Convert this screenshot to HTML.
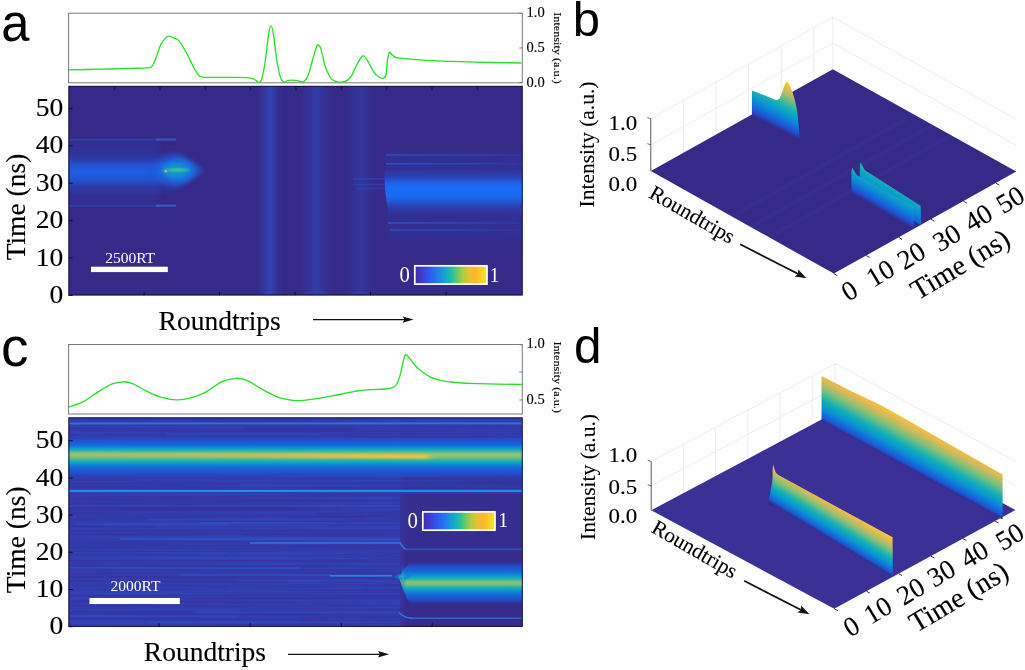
<!DOCTYPE html>
<html><head><meta charset="utf-8"><title>Figure</title>
<style>html,body{margin:0;padding:0;background:#fff}svg{display:block}text[font-family^=Liberation\ Serif]:not([fill]){stroke:#000;stroke-width:.12px}</style></head>
<body><svg width="1025" height="670" viewBox="0 0 1025 670">
<defs><linearGradient id="cb" x1="0" x2="1" y1="0" y2="0"><stop offset="0.000" stop-color="#3a2e9c"/><stop offset="0.080" stop-color="#4038d0"/><stop offset="0.200" stop-color="#3058ee"/><stop offset="0.320" stop-color="#2080e8"/><stop offset="0.420" stop-color="#18a4d2"/><stop offset="0.500" stop-color="#20bcaa"/><stop offset="0.580" stop-color="#60c870"/><stop offset="0.670" stop-color="#b0cc40"/><stop offset="0.760" stop-color="#ecc030"/><stop offset="0.840" stop-color="#fdb62c"/><stop offset="0.920" stop-color="#f8d024"/><stop offset="1.000" stop-color="#f4ea1c"/></linearGradient>
<filter id="b1" x="-20%" y="-20%" width="140%" height="140%"><feGaussianBlur stdDeviation="0.6"/></filter>
<filter id="b2" x="-30%" y="-30%" width="160%" height="160%"><feGaussianBlur stdDeviation="2"/></filter>
<filter id="b3" x="-30%" y="-30%" width="160%" height="160%"><feGaussianBlur stdDeviation="1"/></filter>
<linearGradient id="vs" x1="0" x2="1" y1="0" y2="0"><stop offset="0.000" stop-color="#2f4cc4" stop-opacity="0.00"/><stop offset="0.250" stop-color="#2f4cc4" stop-opacity="0.30"/><stop offset="0.500" stop-color="#2f4cc4" stop-opacity="0.75"/><stop offset="0.750" stop-color="#2f4cc4" stop-opacity="0.30"/><stop offset="1.000" stop-color="#2f4cc4" stop-opacity="0.00"/></linearGradient>
<linearGradient id="lb" x1="0" x2="0" y1="0" y2="1"><stop offset="0.000" stop-color="#2058d8" stop-opacity="0.00"/><stop offset="0.200" stop-color="#2452d0" stop-opacity="0.35"/><stop offset="0.320" stop-color="#2058da" stop-opacity="0.90"/><stop offset="0.470" stop-color="#1e5ce0" stop-opacity="1.00"/><stop offset="0.620" stop-color="#2058da" stop-opacity="0.90"/><stop offset="0.780" stop-color="#2452d0" stop-opacity="0.35"/><stop offset="1.000" stop-color="#2058d8" stop-opacity="0.00"/></linearGradient>
<linearGradient id="mk" gradientUnits="userSpaceOnUse" x1="158" x2="178" y1="0" y2="0"><stop offset="0" stop-color="#fff"/><stop offset="1" stop-color="#000"/></linearGradient><mask id="mband" maskUnits="userSpaceOnUse" x="60" y="140" width="120" height="70"><rect x="60" y="140" width="120" height="70" fill="url(#mk)"/></mask>
<radialGradient id="bl" cx="0.5" cy="0.5" r="0.5"><stop offset="0.000" stop-color="#1a7af2" stop-opacity="1.00"/><stop offset="0.450" stop-color="#1c70ee" stop-opacity="0.95"/><stop offset="0.750" stop-color="#2060e0" stop-opacity="0.60"/><stop offset="1.000" stop-color="#2452d0" stop-opacity="0.00"/></radialGradient>
<radialGradient id="bl2" cx="0.5" cy="0.5" r="0.5"><stop offset="0.000" stop-color="#08a5c4" stop-opacity="1.00"/><stop offset="0.500" stop-color="#0d93d2" stop-opacity="0.80"/><stop offset="1.000" stop-color="#0e75dc" stop-opacity="0.00"/></radialGradient>
<radialGradient id="bl3" cx="0.5" cy="0.5" r="0.5"><stop offset="0.000" stop-color="#5ebc8b" stop-opacity="1.00"/><stop offset="0.600" stop-color="#2ab5a7" stop-opacity="0.80"/><stop offset="1.000" stop-color="#07aac1" stop-opacity="0.00"/></radialGradient>
<linearGradient id="fade" x1="0" x2="1" y1="0" y2="0"><stop offset="0.000" stop-color="#2f5ad0" stop-opacity="1.00"/><stop offset="0.350" stop-color="#2b55cc" stop-opacity="0.90"/><stop offset="1.000" stop-color="#2b55cc" stop-opacity="0.35"/></linearGradient>
<linearGradient id="rb" x1="0" x2="0" y1="0" y2="1"><stop offset="0.000" stop-color="#2058d8" stop-opacity="0.00"/><stop offset="0.160" stop-color="#2452d0" stop-opacity="0.45"/><stop offset="0.300" stop-color="#1c64ea" stop-opacity="0.95"/><stop offset="0.420" stop-color="#186cf4" stop-opacity="1.00"/><stop offset="0.580" stop-color="#186cf4" stop-opacity="1.00"/><stop offset="0.700" stop-color="#1c62e6" stop-opacity="0.80"/><stop offset="0.840" stop-color="#2452d0" stop-opacity="0.35"/><stop offset="1.000" stop-color="#2058d8" stop-opacity="0.00"/></linearGradient>
<linearGradient id="dk" x1="0" x2="1" y1="0" y2="0"><stop offset="0.000" stop-color="#352c8c" stop-opacity="0.00"/><stop offset="0.060" stop-color="#352c8c" stop-opacity="1.00"/><stop offset="1.000" stop-color="#352c8c" stop-opacity="1.00"/></linearGradient>
<filter id="streak" x="0" y="0" width="100%" height="100%" color-interpolation-filters="sRGB"><feTurbulence type="fractalNoise" baseFrequency="0.003 0.4" numOctaves="2" seed="7"/><feColorMatrix type="matrix" values="0 0 0 0 0.16  0 0 0 0 0.31  0 0 0 0 0.80  1.5 0 0 0 -0.6"/></filter>
<linearGradient id="tb1" x1="0" x2="0" y1="0" y2="1"><stop offset="0.000" stop-color="#244bc5" stop-opacity="0.00"/><stop offset="0.100" stop-color="#2053d4" stop-opacity="0.90"/><stop offset="0.210" stop-color="#136bda" stop-opacity="1.00"/><stop offset="0.280" stop-color="#0b9acd" stop-opacity="1.00"/><stop offset="0.335" stop-color="#2ab5a7" stop-opacity="1.00"/><stop offset="0.385" stop-color="#7abf7c" stop-opacity="1.00"/><stop offset="0.435" stop-color="#9fbe6d" stop-opacity="1.00"/><stop offset="0.485" stop-color="#7abf7c" stop-opacity="1.00"/><stop offset="0.540" stop-color="#33b8a1" stop-opacity="1.00"/><stop offset="0.610" stop-color="#09a1c8" stop-opacity="1.00"/><stop offset="0.710" stop-color="#136bda" stop-opacity="1.00"/><stop offset="0.830" stop-color="#2053d4" stop-opacity="0.90"/><stop offset="1.000" stop-color="#244bc5" stop-opacity="0.00"/></linearGradient>
<linearGradient id="core" x1="0" x2="1" y1="0" y2="0"><stop offset="0.000" stop-color="#acbd68" stop-opacity="0.20"/><stop offset="0.150" stop-color="#b8bd63" stop-opacity="0.50"/><stop offset="0.350" stop-color="#cdbb5a" stop-opacity="0.80"/><stop offset="0.550" stop-color="#edb94c" stop-opacity="0.95"/><stop offset="0.650" stop-color="#f2c23f" stop-opacity="1.00"/><stop offset="0.785" stop-color="#f4c43c" stop-opacity="1.00"/><stop offset="0.815" stop-color="#7abf7c" stop-opacity="0.00"/><stop offset="1.000" stop-color="#56bc8e" stop-opacity="0.00"/></linearGradient>
<linearGradient id="lb2" x1="0" x2="0" y1="0" y2="1"><stop offset="0.000" stop-color="#244bc5" stop-opacity="0.00"/><stop offset="0.120" stop-color="#2053d4" stop-opacity="0.90"/><stop offset="0.240" stop-color="#136bda" stop-opacity="1.00"/><stop offset="0.340" stop-color="#0b9acd" stop-opacity="1.00"/><stop offset="0.410" stop-color="#2ab5a7" stop-opacity="1.00"/><stop offset="0.455" stop-color="#6cbe83" stop-opacity="1.00"/><stop offset="0.500" stop-color="#93be72" stop-opacity="1.00"/><stop offset="0.545" stop-color="#6cbe83" stop-opacity="1.00"/><stop offset="0.590" stop-color="#2ab5a7" stop-opacity="1.00"/><stop offset="0.660" stop-color="#0b9acd" stop-opacity="1.00"/><stop offset="0.760" stop-color="#136bda" stop-opacity="1.00"/><stop offset="0.880" stop-color="#2053d4" stop-opacity="0.90"/><stop offset="1.000" stop-color="#244bc5" stop-opacity="0.00"/></linearGradient>
<radialGradient id="fl" cx="0.5" cy="0.5" r="0.5"><stop offset="0.000" stop-color="#33b8a1" stop-opacity="1.00"/><stop offset="0.400" stop-color="#0d93d2" stop-opacity="0.80"/><stop offset="1.000" stop-color="#1c5ad6" stop-opacity="0.00"/></radialGradient>
<linearGradient id="r1" gradientUnits="userSpaceOnUse" x1="751.9" y1="115.6" x2="773.2" y2="74.3"><stop offset="0.00" stop-color="#352a87"/><stop offset="0.10" stop-color="#224fcc"/><stop offset="0.20" stop-color="#126eda"/><stop offset="0.30" stop-color="#0d8ad5"/><stop offset="0.40" stop-color="#09a1c8"/><stop offset="0.50" stop-color="#1db1b1"/><stop offset="0.60" stop-color="#4fbb92"/><stop offset="0.70" stop-color="#8dbe74"/><stop offset="0.80" stop-color="#c3bc5e"/><stop offset="0.90" stop-color="#eebb49"/><stop offset="1.00" stop-color="#fad02b"/></linearGradient>
<linearGradient id="r2b" gradientUnits="userSpaceOnUse" x1="859.8" y1="188.0" x2="883.0" y2="149.9"><stop offset="0.00" stop-color="#1c5ad6"/><stop offset="0.10" stop-color="#0e75dc"/><stop offset="0.20" stop-color="#0d8dd4"/><stop offset="0.30" stop-color="#09a1c8"/><stop offset="0.40" stop-color="#19b0b4"/><stop offset="0.50" stop-color="#41b99a"/><stop offset="0.60" stop-color="#7abf7c"/><stop offset="0.70" stop-color="#acbd68"/><stop offset="0.80" stop-color="#d8bb55"/><stop offset="0.90" stop-color="#f2c23f"/><stop offset="1.00" stop-color="#fad925"/></linearGradient>
<linearGradient id="r2f" gradientUnits="userSpaceOnUse" x1="851.4" y1="193.5" x2="874.0" y2="154.2"><stop offset="0.00" stop-color="#352a87"/><stop offset="0.10" stop-color="#2250ce"/><stop offset="0.20" stop-color="#1170db"/><stop offset="0.30" stop-color="#0d8cd4"/><stop offset="0.40" stop-color="#09a3c6"/><stop offset="0.50" stop-color="#21b2ae"/><stop offset="0.60" stop-color="#58bc8e"/><stop offset="0.70" stop-color="#95be71"/><stop offset="0.80" stop-color="#cbbc5b"/><stop offset="0.90" stop-color="#f1bf43"/><stop offset="1.00" stop-color="#fad925"/></linearGradient>
<linearGradient id="rd1" gradientUnits="userSpaceOnUse" x1="821.5" y1="421.0" x2="841.7" y2="383.8"><stop offset="0.00" stop-color="#352a87"/><stop offset="0.08" stop-color="#1f55d4"/><stop offset="0.17" stop-color="#1071db"/><stop offset="0.25" stop-color="#0d89d5"/><stop offset="0.33" stop-color="#0b9ccb"/><stop offset="0.42" stop-color="#0cacbd"/><stop offset="0.50" stop-color="#2ab5a7"/><stop offset="0.58" stop-color="#54bb90"/><stop offset="0.67" stop-color="#82bf79"/><stop offset="0.75" stop-color="#aabd69"/><stop offset="0.83" stop-color="#cebb5a"/><stop offset="0.92" stop-color="#edba4b"/><stop offset="1.00" stop-color="#f5c837"/></linearGradient>
<linearGradient id="rd2" gradientUnits="userSpaceOnUse" x1="772.6" y1="504.5" x2="793.9" y2="469.2"><stop offset="0.00" stop-color="#352a87"/><stop offset="0.08" stop-color="#1b5cd6"/><stop offset="0.17" stop-color="#0e7dd9"/><stop offset="0.25" stop-color="#0c98cf"/><stop offset="0.33" stop-color="#0babbe"/><stop offset="0.42" stop-color="#30b7a3"/><stop offset="0.50" stop-color="#6abd85"/><stop offset="0.58" stop-color="#9ebe6e"/><stop offset="0.67" stop-color="#ccbc5b"/><stop offset="0.75" stop-color="#efbc47"/><stop offset="0.83" stop-color="#f9ce2e"/><stop offset="0.92" stop-color="#f9ec18"/><stop offset="1.00" stop-color="#f9fb0e"/></linearGradient></defs>
<rect width="1025" height="670" fill="#fff"/>
<text transform="translate(1.2,40.6) scale(0.93,1)" font-size="54.5" font-family="Liberation Sans, sans-serif">a</text>
<text x="0.9" y="365.8" font-size="55" font-family="Liberation Sans, sans-serif">c</text>
<text x="572.8" y="35.8" font-size="49" font-family="Liberation Sans, sans-serif">b</text>
<text x="574" y="363.2" font-size="49.5" font-family="Liberation Sans, sans-serif">d</text>
<rect x="68.6" y="13.2" width="453.7" height="69.6" fill="#fff" stroke="#7a7a7a" stroke-width="1"/>
<path d="M68.9 69.9 C74.1 69.8 89.8 69.5 100.0 69.2 C110.2 69.0 122.0 68.6 130.0 68.4 C138.0 68.2 144.5 68.1 148.0 67.9 C151.5 67.7 150.2 67.7 151.0 67.2 C151.8 66.7 152.2 66.4 153.0 64.8 C153.8 63.2 154.7 61.0 156.0 57.7 C157.3 54.4 159.3 47.8 160.7 44.8 C162.1 41.8 162.9 41.2 164.2 39.7 C165.4 38.2 166.4 36.3 168.2 36.1 C170.0 35.9 172.9 37.4 174.8 38.3 C176.7 39.2 177.5 38.8 179.4 41.3 C181.3 43.8 184.2 48.7 186.5 53.0 C188.8 57.3 191.6 63.4 193.5 67.0 C195.4 70.6 196.6 72.9 198.2 74.6 C199.8 76.3 198.4 76.6 202.9 77.1 C207.4 77.6 217.6 77.3 225.0 77.4 C232.4 77.5 242.5 77.2 247.4 77.6 C252.3 77.9 252.5 78.7 254.4 79.5 C256.3 80.3 257.4 82.2 258.6 82.3 C259.8 82.4 260.3 83.1 261.4 80.0 C262.4 76.9 263.7 70.9 264.9 63.5 C266.1 56.1 267.4 41.7 268.4 35.4 C269.4 29.1 270.1 25.6 271.0 25.6 C271.9 25.6 272.7 29.8 273.6 35.4 C274.5 40.9 275.5 52.1 276.6 58.9 C277.7 65.7 278.9 72.6 280.1 76.4 C281.3 80.2 282.3 81.3 283.7 82.0 C285.1 82.7 286.9 80.7 288.3 80.4 C289.7 80.1 290.6 80.1 292.2 80.1 C293.8 80.1 296.2 80.3 298.0 80.6 C299.8 80.9 301.5 82.6 303.2 81.8 C304.9 81.0 306.4 79.5 308.0 75.7 C309.6 71.9 311.5 63.6 312.9 58.7 C314.3 53.8 315.7 48.8 316.6 46.5 C317.5 44.2 317.8 44.8 318.5 45.2 C319.2 45.6 319.9 45.4 321.0 48.9 C322.1 52.4 323.6 61.3 325.1 66.0 C326.6 70.7 328.4 74.5 330.0 77.0 C331.6 79.5 332.5 80.3 334.9 81.1 C337.3 81.9 342.0 82.3 344.6 81.6 C347.2 80.9 348.7 79.8 350.7 77.0 C352.7 74.2 355.0 68.2 356.8 64.8 C358.6 61.4 360.5 58.1 361.7 56.7 C362.9 55.3 363.1 55.5 364.1 56.2 C365.1 56.9 366.2 58.5 367.8 61.1 C369.4 63.8 372.1 69.4 373.9 72.1 C375.7 74.8 377.2 76.0 378.8 77.0 C380.4 78.0 382.5 78.6 383.7 78.2 C384.9 77.8 385.5 77.3 386.1 74.5 C386.7 71.7 386.8 64.8 387.3 61.1 C387.8 57.5 388.7 53.8 389.3 52.6 C389.9 51.4 390.1 53.1 391.0 53.8 C391.9 54.5 393.2 56.0 394.6 56.7 C396.0 57.4 394.2 57.6 399.5 58.2 C404.8 58.8 413.7 59.8 426.3 60.4 C438.9 61.0 459.2 61.7 475.1 62.1 C491.0 62.5 513.8 62.9 521.5 63.0" fill="none" stroke="#27e027" stroke-width="1.35" stroke-linejoin="round"/>
<line x1="519.3" x2="522.3" y1="13.4" y2="13.4" stroke="#7a7a7a" stroke-width="1"/>
<text x="526.6" y="17.0" font-size="14" textLength="18.2" lengthAdjust="spacingAndGlyphs" font-family="Liberation Serif, serif">1.0</text>
<line x1="519.3" x2="522.3" y1="48.0" y2="48.0" stroke="#7a7a7a" stroke-width="1"/>
<text x="526.6" y="51.8" font-size="14" textLength="18.2" lengthAdjust="spacingAndGlyphs" font-family="Liberation Serif, serif">0.5</text>
<line x1="519.3" x2="522.3" y1="82.6" y2="82.6" stroke="#7a7a7a" stroke-width="1"/>
<text x="526.6" y="86.8" font-size="14" textLength="18.2" lengthAdjust="spacingAndGlyphs" font-family="Liberation Serif, serif">0.0</text>
<text transform="translate(554.1,48.0) rotate(90)" text-anchor="middle" font-size="11" textLength="71.5" lengthAdjust="spacingAndGlyphs" font-family="Liberation Serif, serif">Intensity (a.u.)</text>
<rect x="68.6" y="86.0" width="453.7" height="209.3" fill="#352a87"/>
<clipPath id="ca"><rect x="68.6" y="86.0" width="453.7" height="209.3"/></clipPath>
<g clip-path="url(#ca)">
<rect x="257.3" y="86.0" width="25.0" height="209.3" fill="url(#vs)" opacity="1.00"/>
<rect x="299.0" y="86.0" width="34.0" height="209.3" fill="url(#vs)" opacity="0.72"/>
<rect x="344.5" y="86.0" width="32.0" height="209.3" fill="url(#vs)" opacity="0.50"/>
<rect x="60" y="141" width="100" height="64" fill="#2f3cae" opacity="0.3" filter="url(#b2)" mask="url(#mband)"/>
<rect x="68.6" y="150" width="109.4" height="47" fill="url(#lb)" mask="url(#mband)"/>
<rect x="68.6" y="138.8" width="91.4" height="1.8" fill="#2b55cc" opacity="0.55" filter="url(#b1)"/>
<rect x="156" y="138.5" width="20" height="2" fill="#3a78e0" opacity="0.6" filter="url(#b1)"/>
<rect x="68.6" y="204.9" width="91.4" height="1.8" fill="#2b55cc" opacity="0.55" filter="url(#b1)"/>
<rect x="156" y="204.6" width="20" height="2" fill="#3a78e0" opacity="0.6" filter="url(#b1)"/>
<path d="M151 170.5 C151 160 158 151 168 150.5 C182 152 195 164 206 170.5 C195 177 182 189 168 190.5 C158 190 151 181 151 170.5Z" fill="url(#bl)" filter="url(#b2)"/>
<ellipse cx="176" cy="170.5" rx="21" ry="11" fill="url(#bl2)" filter="url(#b3)"/>
<ellipse cx="177" cy="170" rx="16" ry="3" fill="url(#bl3)" filter="url(#b1)"/>
<circle cx="165.8" cy="171.2" r="1.3" fill="#b8bd63" filter="url(#b1)"/>
<rect x="386" y="152" width="137" height="88" fill="#2f3cae" opacity="0.3" filter="url(#b2)"/>
<path d="M384.5 170 L523 168 L523 216 L389 214 C385.5 200 384.5 185 384.5 170Z" fill="url(#rb)"/>
<rect x="386.0" y="154.2" width="136.3" height="1.6" fill="url(#fade)" opacity="0.70" filter="url(#b1)"/>
<rect x="386.0" y="163.0" width="136.3" height="1.6" fill="url(#fade)" opacity="0.80" filter="url(#b1)"/>
<rect x="388.0" y="222.2" width="134.3" height="1.6" fill="url(#fade)" opacity="0.75" filter="url(#b1)"/>
<rect x="390.0" y="229.2" width="132.3" height="1.6" fill="url(#fade)" opacity="0.65" filter="url(#b1)"/>
<rect x="353.0" y="178.0" width="32.0" height="1.6" fill="#2b55cc" opacity="0.45" filter="url(#b1)"/>
<rect x="353.0" y="183.6" width="32.0" height="1.6" fill="#2b55cc" opacity="0.45" filter="url(#b1)"/>
<rect x="356.0" y="187.7" width="29.0" height="1.6" fill="#2b55cc" opacity="0.40" filter="url(#b1)"/>
</g>
<rect x="414.8" y="265.8" width="72.2" height="18.3" fill="url(#cb)" stroke="#fff" stroke-width="1.7"/>
<text transform="translate(399.6,282.3) scale(0.9,1)" font-size="23" fill="#fff" font-family="Liberation Serif, serif">0</text>
<text transform="translate(489.6,281.8) scale(0.9,1)" font-size="22" fill="#fff" font-family="Liberation Serif, serif">1</text>
<rect x="91" y="266.7" width="76.8" height="5.4" fill="#fff"/>
<text x="130.1" y="262.5" text-anchor="middle" font-size="15.5" fill="#fff" font-family="Liberation Serif, serif">2500RT</text>
<rect x="68.9" y="86.3" width="453.4" height="208.7" fill="none" stroke="#15124a" stroke-width="1"/>
<line x1="68.6" x2="72.6" y1="295.4" y2="295.4" stroke="#111" stroke-width="1"/>
<text transform="translate(63.2,303.0) scale(1.06,1)" text-anchor="end" font-size="26" font-family="Liberation Serif, serif">0</text>
<line x1="68.6" x2="72.6" y1="258.0" y2="258.0" stroke="#111" stroke-width="1"/>
<text transform="translate(63.2,265.6) scale(1.06,1)" text-anchor="end" font-size="26" font-family="Liberation Serif, serif">10</text>
<line x1="68.6" x2="72.6" y1="220.6" y2="220.6" stroke="#111" stroke-width="1"/>
<text transform="translate(63.2,228.2) scale(1.06,1)" text-anchor="end" font-size="26" font-family="Liberation Serif, serif">20</text>
<line x1="68.6" x2="72.6" y1="183.2" y2="183.2" stroke="#111" stroke-width="1"/>
<text transform="translate(63.2,190.8) scale(1.06,1)" text-anchor="end" font-size="26" font-family="Liberation Serif, serif">30</text>
<line x1="68.6" x2="72.6" y1="145.8" y2="145.8" stroke="#111" stroke-width="1"/>
<text transform="translate(63.2,153.4) scale(1.06,1)" text-anchor="end" font-size="26" font-family="Liberation Serif, serif">40</text>
<line x1="68.6" x2="72.6" y1="108.4" y2="108.4" stroke="#111" stroke-width="1"/>
<text transform="translate(63.2,116.0) scale(1.06,1)" text-anchor="end" font-size="26" font-family="Liberation Serif, serif">50</text>
<line x1="144.1" x2="144.1" y1="291.8" y2="295.3" stroke="#111" stroke-width="1"/>
<line x1="219.6" x2="219.6" y1="291.8" y2="295.3" stroke="#111" stroke-width="1"/>
<line x1="295.0" x2="295.0" y1="291.8" y2="295.3" stroke="#111" stroke-width="1"/>
<line x1="370.6" x2="370.6" y1="291.8" y2="295.3" stroke="#111" stroke-width="1"/>
<line x1="446.0" x2="446.0" y1="291.8" y2="295.3" stroke="#111" stroke-width="1"/>
<line x1="114.6" x2="114.6" y1="86.0" y2="90.5" stroke="#0d0a30" stroke-width="0.9" opacity="0.85"/>
<line x1="160.0" x2="160.0" y1="86.0" y2="90.5" stroke="#0d0a30" stroke-width="0.9" opacity="0.85"/>
<line x1="205.3" x2="205.3" y1="86.0" y2="90.5" stroke="#0d0a30" stroke-width="0.9" opacity="0.85"/>
<line x1="250.6" x2="250.6" y1="86.0" y2="90.5" stroke="#0d0a30" stroke-width="0.9" opacity="0.85"/>
<line x1="296.0" x2="296.0" y1="86.0" y2="90.5" stroke="#0d0a30" stroke-width="0.9" opacity="0.85"/>
<line x1="341.3" x2="341.3" y1="86.0" y2="90.5" stroke="#0d0a30" stroke-width="0.9" opacity="0.85"/>
<line x1="386.6" x2="386.6" y1="86.0" y2="90.5" stroke="#0d0a30" stroke-width="0.9" opacity="0.85"/>
<line x1="432.0" x2="432.0" y1="86.0" y2="90.5" stroke="#0d0a30" stroke-width="0.9" opacity="0.85"/>
<line x1="477.3" x2="477.3" y1="86.0" y2="90.5" stroke="#0d0a30" stroke-width="0.9" opacity="0.85"/>
<text transform="translate(25,207.0) rotate(-90)" text-anchor="middle" font-size="27.5" font-family="Liberation Serif, serif">Time (ns)</text>
<text x="158.6" y="329.8" font-size="27.5" font-family="Liberation Serif, serif">Roundtrips</text>
<line x1="313.0" x2="407.6" y1="319.6" y2="319.6" stroke="#111" stroke-width="1.3"/>
<path d="M413.6 319.6 l-11 -3.2 l2 3.2 l-2 3.2z" fill="#111"/>
<rect x="68.6" y="344.5" width="453.7" height="69.5" fill="#fff" stroke="#7a7a7a" stroke-width="1"/>
<path d="M68.9 407.1 C71.3 406.2 78.6 404.1 83.4 401.7 C88.2 399.2 92.8 395.3 97.5 392.4 C102.2 389.5 107.2 386.0 111.5 384.2 C115.8 382.4 119.7 381.9 123.2 381.8 C126.7 381.7 128.7 382.1 132.6 383.7 C136.5 385.3 142.0 389.0 146.7 391.2 C151.4 393.4 155.6 395.7 160.7 397.1 C165.8 398.6 172.0 399.8 177.1 399.9 C182.2 400.0 186.4 399.1 191.1 397.8 C195.8 396.6 200.1 395.1 205.2 392.4 C210.3 389.7 216.5 384.1 221.6 381.8 C226.7 379.5 231.3 378.5 235.6 378.3 C239.9 378.1 243.1 378.9 247.4 380.7 C251.7 382.5 256.3 386.2 261.4 388.9 C266.5 391.6 272.8 395.2 277.8 397.1 C282.8 399.0 287.4 399.5 291.3 400.1 C295.2 400.7 296.9 400.8 301.2 400.6 C305.4 400.4 310.9 399.6 316.8 398.7 C322.7 397.8 330.5 396.2 336.6 395.0 C342.7 393.8 348.9 392.5 353.6 391.6 C358.3 390.8 359.7 390.3 364.9 389.9 C370.1 389.5 380.2 389.3 384.7 389.0 C389.2 388.7 389.8 388.6 391.8 387.9 C393.8 387.1 395.2 386.7 396.6 384.5 C398.0 382.3 399.2 378.4 400.3 374.6 C401.4 370.8 402.4 365.0 403.1 361.9 C403.9 358.8 404.2 356.9 404.8 355.7 C405.4 354.5 405.9 354.6 406.5 354.8 C407.1 355.0 407.4 355.5 408.7 357.1 C410.0 358.8 412.3 362.4 414.4 364.7 C416.5 367.0 418.9 369.2 421.5 371.2 C424.1 373.2 426.7 375.3 430.0 376.9 C433.3 378.5 437.1 379.7 441.3 380.6 C445.5 381.5 449.3 382.0 455.4 382.5 C461.5 383.0 467.0 383.4 478.1 383.7 C489.2 384.0 514.6 384.4 521.9 384.5" fill="none" stroke="#27e027" stroke-width="1.35" stroke-linejoin="round"/>
<line x1="519.3" x2="522.3" y1="344.7" y2="344.7" stroke="#7a7a7a" stroke-width="1"/>
<text x="526.6" y="348.3" font-size="14" textLength="18.2" lengthAdjust="spacingAndGlyphs" font-family="Liberation Serif, serif">1.0</text>
<line x1="519.3" x2="522.3" y1="372.0" y2="372.0" stroke="#7a7a7a" stroke-width="1"/>
<line x1="519.3" x2="522.3" y1="400.0" y2="400.0" stroke="#7a7a7a" stroke-width="1"/>
<text x="526.6" y="404.2" font-size="14" textLength="18.2" lengthAdjust="spacingAndGlyphs" font-family="Liberation Serif, serif">0.5</text>
<text transform="translate(554.1,377.2) rotate(90)" text-anchor="middle" font-size="11" textLength="71.5" lengthAdjust="spacingAndGlyphs" font-family="Liberation Serif, serif">Intensity (a.u.)</text>
<rect x="68.6" y="417.6" width="453.7" height="209.1" fill="#3536a3"/>
<clipPath id="cc"><rect x="68.6" y="417.6" width="453.7" height="209.1"/></clipPath>
<g clip-path="url(#cc)">
<rect x="399" y="546" width="125" height="82" fill="url(#dk)"/>
<rect x="399" y="494" width="125" height="52" fill="url(#dk)" opacity="0.85"/>
<rect x="399" y="476" width="125" height="14" fill="url(#dk)" opacity="0.5"/>
<rect x="68" y="417" width="332" height="210" filter="url(#streak)"/>
<rect x="400" y="417" width="123" height="78" filter="url(#streak)" opacity="0.8"/>
<rect x="228.1" y="606.8" width="171.9" height="1.3" fill="#2a58d0" opacity="0.19" filter="url(#b1)"/>
<rect x="233.4" y="579.4" width="158.5" height="2.4" fill="#2a58d0" opacity="0.29" filter="url(#b1)"/>
<rect x="228.1" y="584.7" width="138.0" height="1.5" fill="#2a58d0" opacity="0.29" filter="url(#b1)"/>
<rect x="237.7" y="615.3" width="162.3" height="2.3" fill="#3a2c90" opacity="0.25" filter="url(#b1)"/>
<rect x="103.6" y="525.2" width="222.1" height="1.1" fill="#2a58d0" opacity="0.29" filter="url(#b1)"/>
<rect x="126.4" y="426.4" width="291.5" height="1.5" fill="#2a58d0" opacity="0.16" filter="url(#b1)"/>
<rect x="125.6" y="508.9" width="215.4" height="1.3" fill="#3a2c90" opacity="0.28" filter="url(#b1)"/>
<rect x="77.3" y="433.6" width="267.9" height="1.4" fill="#2a58d0" opacity="0.25" filter="url(#b1)"/>
<rect x="97.0" y="563.8" width="282.1" height="1.1" fill="#2a58d0" opacity="0.25" filter="url(#b1)"/>
<rect x="104.7" y="512.3" width="210.8" height="1.9" fill="#2a58d0" opacity="0.23" filter="url(#b1)"/>
<rect x="88.2" y="604.1" width="98.5" height="1.3" fill="#2a58d0" opacity="0.24" filter="url(#b1)"/>
<rect x="76.6" y="515.9" width="289.2" height="2.3" fill="#3a2c90" opacity="0.27" filter="url(#b1)"/>
<rect x="71.6" y="615.1" width="166.7" height="2.4" fill="#2a58d0" opacity="0.20" filter="url(#b1)"/>
<rect x="192.1" y="611.8" width="207.9" height="1.4" fill="#2a58d0" opacity="0.30" filter="url(#b1)"/>
<rect x="118.0" y="482.8" width="259.6" height="1.2" fill="#2a58d0" opacity="0.12" filter="url(#b1)"/>
<rect x="101.9" y="433.9" width="315.1" height="1.5" fill="#3a2c90" opacity="0.23" filter="url(#b1)"/>
<rect x="109.4" y="512.0" width="290.6" height="1.2" fill="#2a58d0" opacity="0.13" filter="url(#b1)"/>
<rect x="166.1" y="433.1" width="154.7" height="2.5" fill="#2a58d0" opacity="0.29" filter="url(#b1)"/>
<rect x="267.4" y="483.0" width="255.6" height="1.3" fill="#2a58d0" opacity="0.17" filter="url(#b1)"/>
<rect x="75.4" y="506.3" width="206.4" height="1.4" fill="#3a2c90" opacity="0.29" filter="url(#b1)"/>
<rect x="74.3" y="523.7" width="156.3" height="1.4" fill="#2a58d0" opacity="0.27" filter="url(#b1)"/>
<rect x="120.3" y="507.6" width="177.5" height="2.3" fill="#3a2c90" opacity="0.23" filter="url(#b1)"/>
<rect x="148.6" y="621.1" width="251.4" height="2.0" fill="#2a58d0" opacity="0.27" filter="url(#b1)"/>
<rect x="86.6" y="522.9" width="143.3" height="2.3" fill="#2a58d0" opacity="0.19" filter="url(#b1)"/>
<rect x="227.9" y="555.1" width="172.1" height="2.2" fill="#2a58d0" opacity="0.16" filter="url(#b1)"/>
<rect x="228.2" y="583.7" width="171.8" height="1.6" fill="#3a2c90" opacity="0.13" filter="url(#b1)"/>
<rect x="260.4" y="617.3" width="139.6" height="1.1" fill="#2a58d0" opacity="0.15" filter="url(#b1)"/>
<rect x="201.4" y="616.8" width="98.1" height="1.3" fill="#2a58d0" opacity="0.21" filter="url(#b1)"/>
<rect x="148.7" y="518.5" width="197.1" height="2.2" fill="#2a58d0" opacity="0.30" filter="url(#b1)"/>
<rect x="243.3" y="427.6" width="114.8" height="2.2" fill="#3a2c90" opacity="0.30" filter="url(#b1)"/>
<rect x="243.7" y="534.0" width="140.5" height="2.0" fill="#3a2c90" opacity="0.28" filter="url(#b1)"/>
<rect x="224.9" y="536.3" width="175.1" height="1.7" fill="#2a58d0" opacity="0.13" filter="url(#b1)"/>
<rect x="165.8" y="542.7" width="234.2" height="1.9" fill="#2a58d0" opacity="0.13" filter="url(#b1)"/>
<rect x="137.4" y="483.8" width="102.4" height="2.4" fill="#3a2c90" opacity="0.20" filter="url(#b1)"/>
<rect x="130.2" y="580.9" width="150.1" height="1.7" fill="#3a2c90" opacity="0.14" filter="url(#b1)"/>
<rect x="154.8" y="526.5" width="245.2" height="2.2" fill="#2a58d0" opacity="0.25" filter="url(#b1)"/>
<rect x="195.4" y="611.3" width="204.6" height="1.7" fill="#2a58d0" opacity="0.28" filter="url(#b1)"/>
<rect x="248.8" y="532.3" width="151.2" height="1.0" fill="#3a2c90" opacity="0.14" filter="url(#b1)"/>
<path d="M68 436 L432 438 L523 437 L523 479 L432 480 L68 478Z" fill="url(#tb1)"/>
<path d="M68 452.6 L432 454.7 L523 454.7 L523 458.4 L432 458.4 L68 456.2Z" fill="url(#core)" filter="url(#b3)"/>
<rect x="68" y="422.4" width="456" height="2" fill="#2a6ee0" filter="url(#b1)"/>
<rect x="68" y="489.8" width="456" height="2.2" fill="#1f8ee6" filter="url(#b1)"/>
<rect x="120.0" y="538.1" width="280.0" height="1.7" fill="#2a6ee0" opacity="0.45" filter="url(#b1)"/>
<rect x="250.0" y="542.1" width="151.0" height="1.7" fill="#2a7ae4" opacity="0.85" filter="url(#b1)"/>
<rect x="405.0" y="548.4" width="118.0" height="1.7" fill="#2a6ee0" opacity="0.60" filter="url(#b1)"/>
<rect x="68.0" y="567.1" width="232.0" height="1.7" fill="#2a6ee0" opacity="0.30" filter="url(#b1)"/>
<rect x="180.0" y="574.1" width="150.0" height="1.7" fill="#2a6ee0" opacity="0.35" filter="url(#b1)"/>
<rect x="330.0" y="574.9" width="62.0" height="1.7" fill="#2a8ee0" opacity="0.90" filter="url(#b1)"/>
<rect x="410.0" y="617.4" width="113.0" height="1.7" fill="#2a6ee0" opacity="0.80" filter="url(#b1)"/>
<rect x="68.0" y="505.1" width="332.0" height="1.7" fill="#2a6ee0" opacity="0.25" filter="url(#b1)"/>
<rect x="200.0" y="522.1" width="200.0" height="1.7" fill="#2a6ee0" opacity="0.25" filter="url(#b1)"/>
<path d="M400 543 L405 549.3" stroke="#2a7ae4" stroke-width="1.5" fill="none"/>
<path d="M398.5 577 C403 573 406 563 413 561.5 L524 561.5 L524 604.5 L413 604.5 C406 603 403 586 398.5 577Z" fill="url(#lb2)" filter="url(#b1)"/>
<ellipse cx="402" cy="576.5" rx="9" ry="4" fill="url(#fl)"/>
<ellipse cx="403" cy="578" rx="3" ry="17" fill="url(#fl)" opacity="0.6"/>
<path d="M399 612.5 Q404 618 412 618.3" stroke="#2a6ee0" stroke-width="1.5" fill="none"/>
</g>
<rect x="422.8" y="511.9" width="72.2" height="18.3" fill="url(#cb)" stroke="#fff" stroke-width="1.7"/>
<text transform="translate(407.6,527.9) scale(0.9,1)" font-size="23" fill="#fff" font-family="Liberation Serif, serif">0</text>
<text transform="translate(498.2,527.4) scale(0.9,1)" font-size="22" fill="#fff" font-family="Liberation Serif, serif">1</text>
<rect x="89.5" y="598" width="90.3" height="6" fill="#fff"/>
<text x="135.5" y="591.3" text-anchor="middle" font-size="15.5" fill="#fff" font-family="Liberation Serif, serif">2000RT</text>
<rect x="68.9" y="417.9" width="453.4" height="208.5" fill="none" stroke="#15124a" stroke-width="1"/>
<line x1="68.6" x2="72.6" y1="626.7" y2="626.7" stroke="#111" stroke-width="1"/>
<text transform="translate(63.2,634.3) scale(1.06,1)" text-anchor="end" font-size="26" font-family="Liberation Serif, serif">0</text>
<line x1="68.6" x2="72.6" y1="589.5" y2="589.5" stroke="#111" stroke-width="1"/>
<text transform="translate(63.2,597.1) scale(1.06,1)" text-anchor="end" font-size="26" font-family="Liberation Serif, serif">10</text>
<line x1="68.6" x2="72.6" y1="552.3" y2="552.3" stroke="#111" stroke-width="1"/>
<text transform="translate(63.2,559.9) scale(1.06,1)" text-anchor="end" font-size="26" font-family="Liberation Serif, serif">20</text>
<line x1="68.6" x2="72.6" y1="515.1" y2="515.1" stroke="#111" stroke-width="1"/>
<text transform="translate(63.2,522.7) scale(1.06,1)" text-anchor="end" font-size="26" font-family="Liberation Serif, serif">30</text>
<line x1="68.6" x2="72.6" y1="477.9" y2="477.9" stroke="#111" stroke-width="1"/>
<text transform="translate(63.2,485.5) scale(1.06,1)" text-anchor="end" font-size="26" font-family="Liberation Serif, serif">40</text>
<line x1="68.6" x2="72.6" y1="440.7" y2="440.7" stroke="#111" stroke-width="1"/>
<text transform="translate(63.2,448.3) scale(1.06,1)" text-anchor="end" font-size="26" font-family="Liberation Serif, serif">50</text>
<line x1="159.0" x2="159.0" y1="623.2" y2="626.7" stroke="#111" stroke-width="1"/>
<line x1="250.3" x2="250.3" y1="623.2" y2="626.7" stroke="#111" stroke-width="1"/>
<line x1="341.4" x2="341.4" y1="623.2" y2="626.7" stroke="#111" stroke-width="1"/>
<line x1="432.2" x2="432.2" y1="623.2" y2="626.7" stroke="#111" stroke-width="1"/>
<text transform="translate(25,539.8) rotate(-90)" text-anchor="middle" font-size="27.5" font-family="Liberation Serif, serif">Time (ns)</text>
<text x="143.8" y="660.8" font-size="27.5" font-family="Liberation Serif, serif">Roundtrips</text>
<line x1="288.0" x2="383.0" y1="654.3" y2="654.3" stroke="#111" stroke-width="1.3"/>
<path d="M389.0 654.3 l-11 -3.2 l2 3.2 l-2 3.2z" fill="#111"/>
<path d="M650.8 144.8 L832.8 43.1 L1016.2 145.4" fill="none" stroke="#ededed" stroke-width="1"/>
<path d="M650.8 118.7 L832.8 17.0 L1016.2 119.3" fill="none" stroke="#ededed" stroke-width="1"/>
<line x1="683.4" x2="683.4" y1="152.8" y2="100.5" stroke="#ededed" stroke-width="1"/>
<line x1="716.0" x2="716.0" y1="134.6" y2="82.3" stroke="#ededed" stroke-width="1"/>
<line x1="748.6" x2="748.6" y1="116.4" y2="64.1" stroke="#ededed" stroke-width="1"/>
<line x1="781.2" x2="781.2" y1="98.1" y2="45.8" stroke="#ededed" stroke-width="1"/>
<line x1="813.8" x2="813.8" y1="79.9" y2="27.6" stroke="#ededed" stroke-width="1"/>
<line x1="832.8" x2="832.8" y1="69.3" y2="17.0" stroke="#ededed" stroke-width="1"/>
<polygon points="650.8,171.0 832.8,69.3 1016.2,171.6 833.8,273.6" fill="#352a87"/>
<line x1="650.8" x2="650.8" y1="171.0" y2="118.7" stroke="#444" stroke-width="0.9"/>
<line x1="647.3" x2="650.8" y1="143.7" y2="144.8" stroke="#444" stroke-width="0.8"/>
<line x1="647.3" x2="650.8" y1="117.5" y2="118.7" stroke="#444" stroke-width="0.8"/>
<text transform="translate(608.6,129.8) scale(1.13,1)" font-size="20.3" font-family="Liberation Serif, serif">1.0</text>
<text transform="translate(608.6,160.8) scale(1.13,1)" font-size="20.3" font-family="Liberation Serif, serif">0.5</text>
<text transform="translate(608.6,191.4) scale(1.13,1)" font-size="20.3" font-family="Liberation Serif, serif">0.0</text>
<clipPath id="cfb"><polygon points="650.8,171.0 832.8,69.3 1016.2,171.6 833.8,273.6"/></clipPath>
<g clip-path="url(#cfb)" opacity="0.3">
<line x1="731.9" y1="216.5" x2="914.0" y2="114.6" stroke="#3d39a2" stroke-width="4" filter="url(#b3)"/>
<line x1="750.5" y1="226.9" x2="932.8" y2="125.1" stroke="#3d39a2" stroke-width="4" filter="url(#b3)"/>
<line x1="768.8" y1="237.2" x2="951.1" y2="135.3" stroke="#3d39a2" stroke-width="4" filter="url(#b3)"/>
</g>
<polygon points="751.9,115.6 751.9,90.6 765.0,95.4 777.2,100.4 779.5,98.5 781.5,94.0 783.5,88.0 785.3,83.5 786.6,81.5 788.2,82.5 790.0,86.0 792.5,92.3 794.8,100.0 797.2,111.0 798.6,124.0 799.8,139.3 799.8,140.3" fill="url(#r1)"/>
<polygon points="859.8,188.0 859.8,168.0 860.4,162.4 862.5,166.0 864.9,170.2 920.6,205.8 921.3,225.5" fill="url(#r2b)"/>
<polygon points="851.4,193.5 851.4,172.0 852.1,167.5 854.3,171.0 856.8,174.9 913.7,206.5 913.9,229.5" fill="url(#r2f)"/>
<line x1="833.8" y1="273.6" x2="837.3" y2="275.6" stroke="#333" stroke-width="1"/>
<line x1="866.2" y1="255.5" x2="869.7" y2="257.5" stroke="#333" stroke-width="1"/>
<line x1="898.6" y1="237.4" x2="902.1" y2="239.4" stroke="#333" stroke-width="1"/>
<line x1="931.0" y1="219.2" x2="934.5" y2="221.2" stroke="#333" stroke-width="1"/>
<line x1="963.4" y1="201.1" x2="966.9" y2="203.1" stroke="#333" stroke-width="1"/>
<line x1="995.8" y1="183.0" x2="999.3" y2="185.0" stroke="#333" stroke-width="1"/>
<text transform="translate(854.0,298.4) rotate(-31.0)" text-anchor="middle" font-size="27.3" font-family="Liberation Serif, serif">0</text>
<text transform="translate(885.0,281.0) rotate(-31.0)" text-anchor="middle" font-size="27.3" font-family="Liberation Serif, serif">10</text>
<text transform="translate(916.0,263.5) rotate(-31.0)" text-anchor="middle" font-size="27.3" font-family="Liberation Serif, serif">20</text>
<text transform="translate(951.5,245.5) rotate(-31.0)" text-anchor="middle" font-size="27.3" font-family="Liberation Serif, serif">30</text>
<text transform="translate(983.0,225.5) rotate(-31.0)" text-anchor="middle" font-size="27.3" font-family="Liberation Serif, serif">40</text>
<text transform="translate(1015.0,207.5) rotate(-31.0)" text-anchor="middle" font-size="27.3" font-family="Liberation Serif, serif">50</text>
<text transform="translate(965.0,272.5) rotate(-31.0)" text-anchor="middle" font-size="28.4" font-family="Liberation Serif, serif">Time (ns)</text>
<text transform="translate(688.8,220.6) rotate(30.0)" text-anchor="middle" font-size="21.3" font-family="Liberation Serif, serif">Roundtrips</text>
<g transform="translate(740.2,244.3) rotate(27.1)"><line x1="0" x2="68.6" y1="0" y2="0" stroke="#111" stroke-width="1.8"/><path d="M74.6 0 l-11.5 -4 l2 4 l-2 4z" fill="#111"/></g>
<text transform="translate(593.9,144.5) rotate(-90)" text-anchor="middle" font-size="21.5" font-family="Liberation Serif, serif">Intensity (a.u.)</text>
<path d="M651.2 485.9 L835.2 387.9 L1015.4 485.6" fill="none" stroke="#ededed" stroke-width="1"/>
<path d="M651.2 461.5 L835.2 363.5 L1015.4 461.2" fill="none" stroke="#ededed" stroke-width="1"/>
<line x1="683.4" x2="683.4" y1="493.1" y2="444.3" stroke="#ededed" stroke-width="1"/>
<line x1="715.6" x2="715.6" y1="476.0" y2="427.2" stroke="#ededed" stroke-width="1"/>
<line x1="747.8" x2="747.8" y1="458.9" y2="410.1" stroke="#ededed" stroke-width="1"/>
<line x1="780.0" x2="780.0" y1="441.7" y2="392.9" stroke="#ededed" stroke-width="1"/>
<line x1="812.2" x2="812.2" y1="424.6" y2="375.8" stroke="#ededed" stroke-width="1"/>
<line x1="835.2" x2="835.2" y1="412.3" y2="363.5" stroke="#ededed" stroke-width="1"/>
<polygon points="651.2,510.3 835.2,412.3 1015.4,510.0 834.2,608.7" fill="#3a3095"/>
<line x1="651.2" x2="651.2" y1="510.3" y2="461.5" stroke="#444" stroke-width="0.9"/>
<line x1="647.7" x2="651.2" y1="484.7" y2="485.9" stroke="#444" stroke-width="0.8"/>
<line x1="647.7" x2="651.2" y1="460.3" y2="461.5" stroke="#444" stroke-width="0.8"/>
<text transform="translate(608.6,461.8) scale(1.13,1)" font-size="20.3" font-family="Liberation Serif, serif">1.0</text>
<text transform="translate(608.6,493.8) scale(1.13,1)" font-size="20.3" font-family="Liberation Serif, serif">0.5</text>
<text transform="translate(608.6,523.2) scale(1.13,1)" font-size="20.3" font-family="Liberation Serif, serif">0.0</text>
<polygon points="821.5,421.0 821.5,376.0 850.0,390.5 881.0,405.3 910.0,421.5 940.0,438.8 970.0,456.0 1002.6,474.6 1002.6,519.5" fill="url(#rd1)"/>
<polygon points="772.6,504.5 772.6,470.0 773.0,464.3 774.6,469.5 776.0,472.8 778.0,474.8 892.6,537.3 892.8,577.0" fill="url(#rd2)"/>
<polygon points="772.9,478 768.2,504.3 772.9,506.8" fill="url(#rd2)"/>
<line x1="834.2" y1="608.7" x2="837.7" y2="610.7" stroke="#333" stroke-width="1"/>
<line x1="866.4" y1="591.2" x2="869.9" y2="593.2" stroke="#333" stroke-width="1"/>
<line x1="898.6" y1="573.6" x2="902.1" y2="575.6" stroke="#333" stroke-width="1"/>
<line x1="930.8" y1="556.1" x2="934.3" y2="558.1" stroke="#333" stroke-width="1"/>
<line x1="962.9" y1="538.6" x2="966.4" y2="540.6" stroke="#333" stroke-width="1"/>
<line x1="995.1" y1="521.0" x2="998.6" y2="523.0" stroke="#333" stroke-width="1"/>
<text transform="translate(856.2,634.3) rotate(-31.0)" text-anchor="middle" font-size="27.3" font-family="Liberation Serif, serif">0</text>
<text transform="translate(882.5,618.0) rotate(-31.0)" text-anchor="middle" font-size="27.3" font-family="Liberation Serif, serif">10</text>
<text transform="translate(915.5,599.0) rotate(-31.0)" text-anchor="middle" font-size="27.3" font-family="Liberation Serif, serif">20</text>
<text transform="translate(946.0,581.0) rotate(-31.0)" text-anchor="middle" font-size="27.3" font-family="Liberation Serif, serif">30</text>
<text transform="translate(979.0,562.0) rotate(-31.0)" text-anchor="middle" font-size="27.3" font-family="Liberation Serif, serif">40</text>
<text transform="translate(1014.5,544.5) rotate(-31.0)" text-anchor="middle" font-size="27.3" font-family="Liberation Serif, serif">50</text>
<text transform="translate(963.5,605.0) rotate(-31.0)" text-anchor="middle" font-size="28.4" font-family="Liberation Serif, serif">Time (ns)</text>
<text transform="translate(691.3,555.2) rotate(30.0)" text-anchor="middle" font-size="21.3" font-family="Liberation Serif, serif">Roundtrips</text>
<g transform="translate(744.1,580.7) rotate(27.2)"><line x1="0" x2="67.5" y1="0" y2="0" stroke="#111" stroke-width="1.8"/><path d="M73.5 0 l-11.5 -4 l2 4 l-2 4z" fill="#111"/></g>
<text transform="translate(594.5,477.0) rotate(-90)" text-anchor="middle" font-size="21.5" font-family="Liberation Serif, serif">Intensity (a.u.)</text>
</svg></body></html>
